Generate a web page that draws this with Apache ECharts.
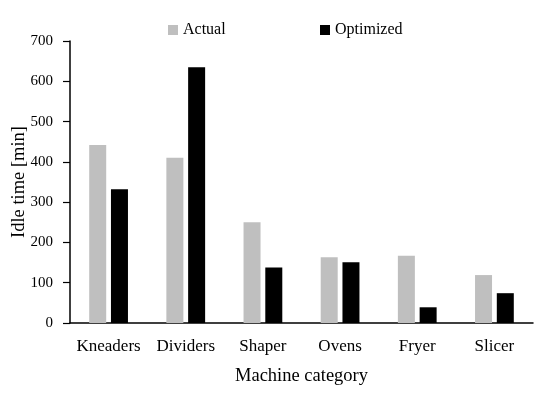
<!DOCTYPE html>
<html>
<head>
<meta charset="utf-8">
<script src="https://cdn.jsdelivr.net/npm/echarts@6/dist/echarts.min.js"></script>
<style>
html,body{margin:0;padding:0;background:#fff;}
#chart{width:550px;height:395px;}
</style>
</head>
<body>
<div id="chart"></div>
<script>
var categories = ['Kneaders', 'Dividers', 'Shaper', 'Ovens', 'Fryer', 'Slicer'];
var actual = [442, 410, 250, 163, 167, 119];
var optimized = [332, 635, 138, 151, 39, 74];
var seriesNames = ['Actual', 'Optimized'];

var FONT = 'Liberation Serif';
var chart = echarts.init(document.getElementById('chart'));
chart.setOption({
  animation: false,
  backgroundColor: '#fff',
  textStyle: { fontFamily: FONT, color: '#000' },
  legend: [
    { data: [seriesNames[0]], left: 163, top: 17, itemWidth: 10, itemHeight: 10, itemGap: 4,
      textStyle: { fontFamily: FONT, fontSize: 16, color: '#000' }, icon: 'rect' },
    { data: [seriesNames[1]], left: 315, top: 17, itemWidth: 10, itemHeight: 10, itemGap: 4,
      textStyle: { fontFamily: FONT, fontSize: 16, color: '#000' }, icon: 'rect' }
  ],
  grid: { left: 70, right: 17, top: 41, bottom: 72, containLabel: false, outerBoundsMode: 'none' },
  xAxis: {
    type: 'category',
    data: categories,
    name: 'Machine category',
    nameLocation: 'middle',
    nameGap: 44,
    nameMoveOverlap: false,
    nameTextStyle: { fontFamily: FONT, fontSize: 18.5, color: '#000' },
    axisLine: { lineStyle: { color: '#000', width: 1.5 } },
    axisTick: { show: false },
    axisLabel: { fontFamily: FONT, fontSize: 17, color: '#000', margin: 15, interval: 0 }
  },
  yAxis: {
    type: 'value',
    min: 0, max: 700, interval: 100,
    name: 'Idle time [min]',
    nameLocation: 'middle',
    nameGap: 41,
    nameMoveOverlap: false,
    nameRotate: 90,
    nameTextStyle: { fontFamily: FONT, fontSize: 18.5, color: '#000' },
    splitLine: { show: false },
    axisLine: { show: true, lineStyle: { color: '#000', width: 1.5 } },
    axisTick: { show: true, inside: false, length: 7, lineStyle: { color: '#000', width: 1.2 } },
    axisLabel: { fontFamily: FONT, fontSize: 15, color: '#000', margin: 17 }
  },
  series: [
    { name: seriesNames[0], type: 'bar', data: actual, barWidth: 17, barGap: '28%',
      itemStyle: { color: '#bfbfbf' } },
    { name: seriesNames[1], type: 'bar', data: optimized, barWidth: 17, barGap: '28%',
      itemStyle: { color: '#000' } }
  ]
});
</script>
</body>
</html>
